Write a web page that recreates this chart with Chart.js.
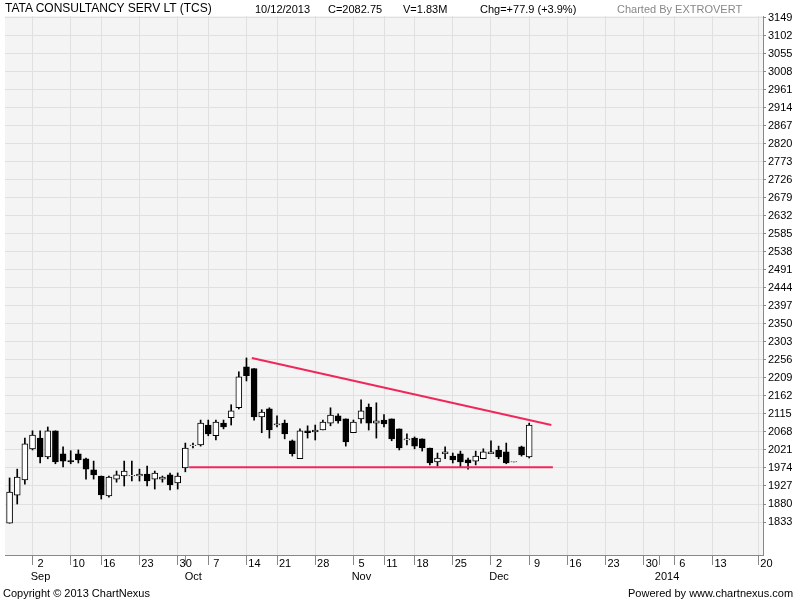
<!DOCTYPE html>
<html>
<head>
<meta charset="utf-8">
<script src="https://cdn.jsdelivr.net/npm/chart.js@4.4.0/dist/chart.umd.min.js"></script>
<style>
  body { margin: 0; background: #fff; font-family: "Liberation Sans", Arial, sans-serif; }
  #wrap { position: relative; width: 800px; height: 600px; }
  .t { position: absolute; font-size: 12px; color: #000; white-space: nowrap; line-height: 13px; }
</style>
</head>
<body>
<div id="wrap">
  <canvas id="c" width="800" height="600"></canvas>
  <div class="t" style="left:5px;top:2px;">TATA CONSULTANCY SERV LT (TCS)</div>
  <div class="t" style="left:255px;top:3px;font-size:11px;">10/12/2013</div>
  <div class="t" style="left:328px;top:3px;font-size:11px;">C=2082.75</div>
  <div class="t" style="left:403px;top:3px;font-size:11px;">V=1.83M</div>
  <div class="t" style="left:480px;top:3px;font-size:11px;">Chg=+77.9 (+3.9%)</div>
  <div class="t" style="left:617px;top:3px;font-size:11px;color:#888;">Charted By EXTROVERT</div>
  <div class="t" style="left:3px;top:587px;font-size:11px;">Copyright © 2013 ChartNexus</div>
  <div class="t" style="left:628px;top:587px;font-size:11px;">Powered by www.chartnexus.com</div>
</div>
<script>
// daily candles, trading-day index 0..68
const opens  = [1830,1903,1943,2024,2052,2003,2071,2011,1993,2011,1998,1969,1953,1901,1945,1953,1953,1953,1958,1945,1945,1956,1935,
                1974,2032,2034,2086,2058,2091,2105,2131,2238,2233,2107,2128,2086,2091,2045,1998,2071,2068,2073,2091,2110,2102,2066,
                2102,2133,2091,2099,2102,2076,2047,2052,2050,2026,1990,2011,2005,2011,1995,1992,1998,2011,2021,2016,1990,2029,2003];
const closes = [1911,1950,2037,2060,2003,2071,1990,1992,1990,1995,1971,1956,1904,1950,1956,1966,1955,1958,1940,1961,1950,1930,1953,
                2026,2034,2091,2063,2094,2081,2123,2212,2215,2107,2120,2073,2089,2063,2011,2071,2066,2073,2094,2112,2097,2042,2094,
                2123,2091,2097,2089,2050,2026,2050,2031,2026,1987,2000,2016,1995,1990,1987,2005,2016,2016,2003,1987,1990,2008,2086];
const highs  = [1948,1971,2052,2071,2071,2081,2071,2029,2019,2021,2000,1992,1953,1953,1966,1992,1992,1971,1979,1966,1953,1961,1961,
                2039,2039,2099,2099,2099,2099,2139,2225,2261,2233,2126,2131,2110,2099,2047,2076,2084,2086,2099,2131,2115,2102,2099,
                2152,2141,2144,2113,2102,2076,2063,2055,2050,2026,2013,2029,2013,2018,2000,2018,2024,2045,2031,2039,1990,2031,2091];
const lows   = [1830,1880,1932,2021,1987,1998,1985,1977,1985,1987,1945,1945,1893,1898,1937,1927,1940,1940,1927,1919,1937,1917,1919,
                1964,2026,2031,2058,2047,2076,2086,2128,2201,2099,2066,2052,2081,2050,2005,1998,2052,2047,2073,2084,2091,2031,2066,
                2091,2073,2052,2081,2045,2021,2034,2024,2018,1982,1979,1998,1987,1977,1971,1982,1998,2011,1998,1985,1990,2005,2000];

// trendlines [index, price]
const upperLine = [[31.7, 2261], [70.9, 2086]];
const lowerLine = [[23.5, 1976], [71.1, 1976]];

// x-axis ticks: index, day label, month label
const xTickIdx   = [3, 8, 12, 17, 22, 23, 26, 31, 35, 40, 45, 49, 53, 58, 63, 68, 73, 78, 83, 85, 87, 92, 98];
const xTickDay   = ['2','10','16','23','30','','7','14','21','28','5','11','18','25','2','9','16','23','30','','6','13','20'];
const xTickMonth = ['Sep','','','','','Oct','','','','','Nov','','','','Dec','','','','','2014','','',''];

const yTicks = [];
for (let v = 1833; v <= 3149; v += 47) yTicks.push(v);

const idx = opens.map((_, i) => i);

new Chart(document.getElementById('c'), {
  type: 'bar',
  data: {
    datasets: [
      {
        data: idx.map(i => ({ x: i, y: [lows[i], highs[i]] })),
        backgroundColor: '#000', barThickness: 1, grouped: false, order: 2
      },
      {
        data: idx.map(i => ({ x: i, y: [opens[i], closes[i] === opens[i] ? opens[i] + 0.5 : closes[i]] })),
        backgroundColor: idx.map(i => closes[i] >= opens[i] ? '#fff' : '#000'),
        borderColor: '#000', borderWidth: 1, borderSkipped: false,
        barThickness: 6, grouped: false, order: 1
      },
      {
        type: 'line',
        data: upperLine.map(p => ({ x: p[0], y: p[1] })),
        borderColor: '#f0285a', borderWidth: 2, pointRadius: 0, order: 0
      },
      {
        type: 'line',
        data: lowerLine.map(p => ({ x: p[0], y: p[1] })),
        borderColor: '#f0285a', borderWidth: 2, pointRadius: 0, order: 0
      }
    ]
  },
  options: {
    responsive: false,
    animation: false,
    layout: { padding: { left: 5, top: 16, bottom: 13, right: 0 } },
    plugins: { legend: { display: false }, tooltip: { enabled: false } },
    scales: {
      x: {
        type: 'linear', min: -0.6, max: 98.6, offset: false,
        afterBuildTicks: ax => { ax.ticks = xTickIdx.map(v => ({ value: v })); },
        afterFit: ax => { ax.height = 32; },
        ticks: {
          autoSkip: false, maxRotation: 0, labelOffset: 8, padding: -8,
          font: { family: 'Liberation Sans', size: 11, lineHeight: 1.2 }, color: '#000',
          callback: (v, i) => [xTickDay[i], xTickMonth[i]]
        },
        grid: {
          offset: false,
          color: ctx => (ctx.tick && xTickDay[ctx.index] === '') ? 'rgba(0,0,0,0)' : '#e0e0e0',
          tickLength: 10, tickColor: '#888'
        },
        border: { color: '#888' }
      },
      y: {
        position: 'right', min: 1747, max: 3153,
        afterBuildTicks: ax => { ax.ticks = yTicks.map(v => ({ value: v })); },
        afterFit: ax => { ax.width = 37; },
        ticks: {
          autoSkip: false, font: { family: 'Liberation Sans', size: 11 }, color: '#000', padding: 2,
          callback: v => String(v)
        },
        grid: { color: '#e0e0e0', tickLength: 3, tickColor: '#888' },
        border: { color: '#888' }
      }
    }
  },
  plugins: [{
    id: 'bg',
    beforeDraw: c => {
      const a = c.chartArea, g = c.ctx;
      g.save(); g.fillStyle = '#f4f4f4'; g.fillRect(a.left, a.top, a.right - a.left, a.bottom - a.top); g.restore();
    }
  }]
});
</script>
</body>
</html>
